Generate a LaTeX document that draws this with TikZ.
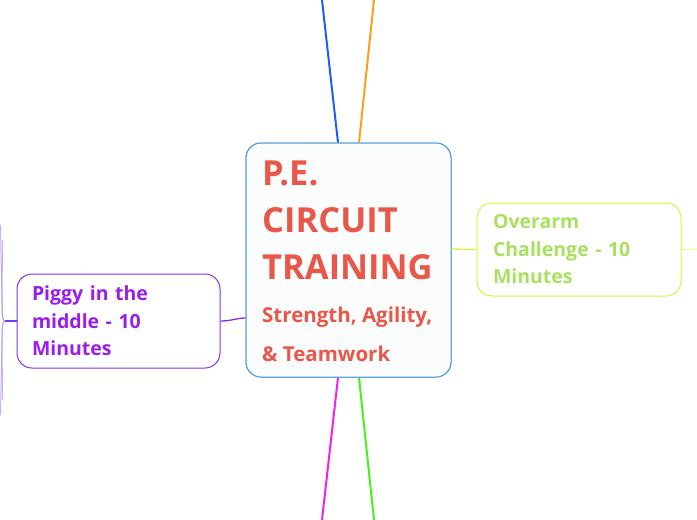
\documentclass[tikz,border=0pt]{standalone}
\usepackage{fontspec}
\setmainfont{Open Sans}
\definecolor{hubblue}{HTML}{4A9AD8}
\definecolor{hubfill}{HTML}{FBFDFD}
\definecolor{hubred}{HTML}{E8574A}
\definecolor{pigline}{HTML}{7A35F2}
\definecolor{pigtext}{HTML}{9A1EE8}
\definecolor{armline}{HTML}{D6F53A}
\definecolor{armtext}{HTML}{A8E060}
\definecolor{legblue}{HTML}{1F5CFF}
\definecolor{legorange}{HTML}{FF9E1A}
\definecolor{legpink}{HTML}{F020F0}
\definecolor{leggreen}{HTML}{48F01E}
\definecolor{twig}{HTML}{A98EF6}
\begin{document}
\begin{tikzpicture}[x=1pt,y=-1pt,
    hubbox/.style={draw=hubblue,fill=hubfill,line width=1pt,rounded corners=15pt,
      minimum width=205pt,minimum height=234pt,inner sep=0pt},
    headline/.style={text=hubred,font=\bfseries\fontsize{34.5}{47}\selectfont,
      align=left,inner sep=0pt,anchor=north west},
    subline/.style={text=hubred,font=\bfseries\fontsize{20.5}{39}\selectfont,
      align=left,inner sep=0pt,anchor=north west},
    branch/.style={line width=1pt,rounded corners=15pt,fill=white,inner xsep=15pt,
      inner ysep=0pt,text width=173pt,minimum height=94pt,align=left,
      font=\bfseries\fontsize{19.5}{27.5}\selectfont},
    leg/.style={line width=2pt}]
  \useasboundingbox (0,0) rectangle (697,520);
  % legs leaving the picture
  \coordinate (up1) at (322,0);
  \coordinate (up2) at (374,0);
  \coordinate (dn1) at (322,520);
  \coordinate (dn2) at (374,520);
  \coordinate (out) at (697,249);
  \coordinate (fork) at (5,321);
  \node[hubbox] (hub) at (348.5,260) {};
  \draw[leg,legblue] ([xshift=-10.5pt]hub.north) -- (up1);
  \draw[leg,legorange] ([xshift=10.5pt]hub.north) -- (up2);
  \draw[leg,legpink] ([xshift=-10.5pt]hub.south) -- (dn1);
  \draw[leg,leggreen] ([xshift=10.5pt]hub.south) -- (dn2);
  \node[hubbox] (hub) at (348.5,260) {};
  \node[headline] (title) at (262,160.4) {P.E.\\CIRCUIT\\TRAINING};
  \node[subline] (sub) at (262,307.2) {Strength, Agility,\\\& Teamwork};
  % branches
  \node[branch,draw=pigline,text=pigtext] (pig) at (118.5,321) {Piggy in the\\middle - 10\\Minutes};
  \node[branch,draw=armline,text=armtext,inner xsep=16pt,text width=172pt,minimum height=93pt] (arm) at (579,249.5) {Overarm\\Challenge - 10\\Minutes};
  \draw[line width=1.3pt,pigline] (pig.east) .. controls (232,321) and (236,318) .. ([yshift=-58pt]hub.west);
  \draw[line width=1.3pt,armline] ([yshift=11pt]hub.east) -- (arm.west);
  \draw[line width=0.8pt,armline!70] (arm.east) -- (out);
  \draw[line width=1.3pt,pigline] (pig.west) -- (fork);
  \foreach \e/\t in {0.5/225,2.5/240,0.5/415,2.5/400}
    \draw[line width=1pt,twig,opacity=0.7] (fork) .. controls (2,321) and (2,{321+(\t-321)/10}) .. (2,{321+(\t-321)/5}) -- (\e,\t);
\end{tikzpicture}
\end{document}
